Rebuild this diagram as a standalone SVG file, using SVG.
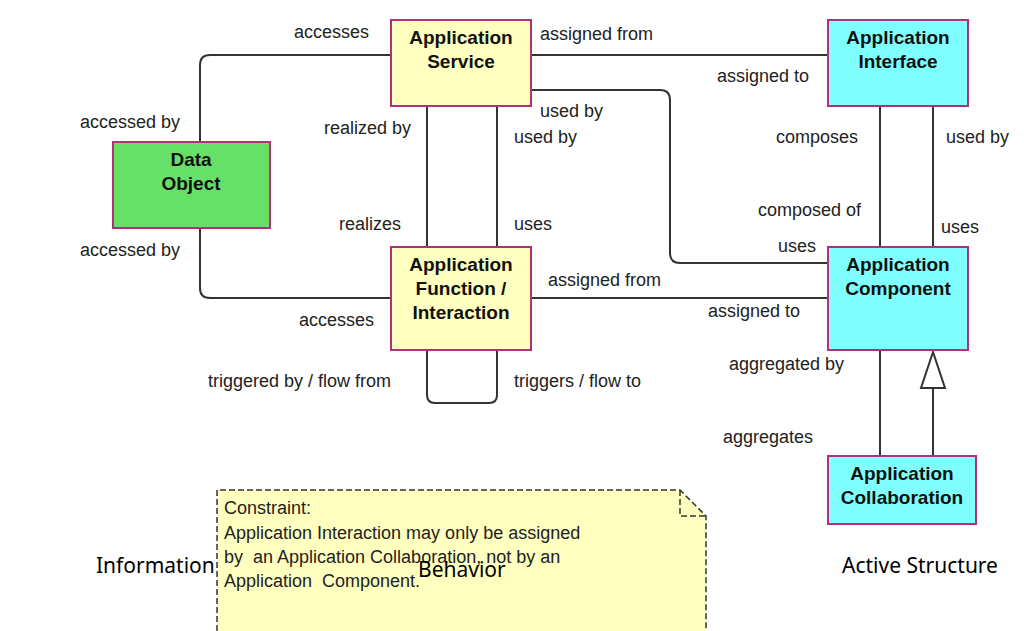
<svg xmlns="http://www.w3.org/2000/svg" width="1024" height="631" viewBox="0 0 1024 631">
<style>
.n{stroke:#b0307a;stroke-width:2}
.y{fill:#ffffc0}.c{fill:#80ffff}.g{fill:#66e066}
.t{font-family:"Liberation Sans",Arial,sans-serif;font-size:19px;font-weight:bold;fill:#111;text-anchor:middle}
.l{font-family:"Liberation Sans",Arial,sans-serif;font-size:18px;fill:#222}
.k{fill:none;stroke:#333;stroke-width:2}
.s{font-family:"Noto Sans","DejaVu Sans",sans-serif;font-size:21px;fill:#000}
.m{font-family:"Liberation Sans",Arial,sans-serif;font-size:18px;fill:#222}
</style>
<rect width="1024" height="631" fill="#fff"/>
<g id="connectors">
<path class="k" d="M391,55H210Q200,55 200,65V142"/>
<path class="k" d="M200,228V288Q200,298 210,298H391"/>
<path class="k" d="M531,55H828"/>
<path class="k" d="M531,90H660Q670,90 670,100V253Q670,263 680,263H828"/>
<path class="k" d="M427,106V247M497,106V247"/>
<path class="k" d="M531,298H828"/>
<path class="k" d="M427,350V395Q427,403 435,403H489Q497,403 497,395V350"/>
<path class="k" d="M880,106V247M933,106V247"/>
<path class="k" d="M880,350V456M933,456V388"/>
<path d="M933,352L921,388H945Z" fill="#fff" stroke="#333" stroke-width="2"/>
</g>
<g id="labels">
<text class="l" x="294" y="38">accesses</text>
<text class="l" x="80" y="128">accessed by</text>
<text class="l" x="80" y="256">accessed by</text>
<text class="l" x="299" y="326">accesses</text>
<text class="l" x="540" y="40">assigned from</text>
<text class="l" x="717" y="82">assigned to</text>
<text class="l" x="540" y="117">used by</text>
<text class="l" x="514" y="143">used by</text>
<text class="l" x="324" y="134">realized by</text>
<text class="l" x="339" y="230">realizes</text>
<text class="l" x="514" y="230">uses</text>
<text class="l" x="776" y="143">composes</text>
<text class="l" x="946" y="143">used by</text>
<text class="l" x="758" y="216">composed of</text>
<text class="l" x="778" y="252">uses</text>
<text class="l" x="941" y="233">uses</text>
<text class="l" x="548" y="286">assigned from</text>
<text class="l" x="708" y="317">assigned to</text>
<text class="l" x="208" y="387">triggered by / flow from</text>
<text class="l" x="514" y="387">triggers / flow to</text>
<text class="l" x="729" y="370">aggregated by</text>
<text class="l" x="723" y="443">aggregates</text>
</g>
<text class="s" x="96" y="573">Information</text>
<text class="s" x="842" y="573">Active Structure</text>
<g id="note">
<path d="M217,631V490H680L706,516V631" fill="#ffffc0" stroke="#333" stroke-width="1.5" stroke-dasharray="6,3"/>
<path d="M680,490V516H706" fill="none" stroke="#333" stroke-width="1.5" stroke-dasharray="6,3"/>
<text class="m" x="224" y="514">Constraint:</text>
<text class="m" x="224" y="539" xml:space="preserve">Application Interaction may only be assigned</text>
<text class="m" x="224" y="563" xml:space="preserve">by  an Application Collaboration, not by an</text>
<text class="m" x="224" y="587" xml:space="preserve">Application  Component.</text>
</g>
<text class="s" x="418" y="577">Behavior</text>
<g id="service"><rect class="n y" x="391" y="20" width="140" height="86"/><text class="t" x="461" y="44">Application</text><text class="t" x="461" y="68">Service</text></g>
<g id="interface"><rect class="n c" x="828" y="20" width="140" height="86"/><text class="t" x="898" y="44">Application</text><text class="t" x="898" y="68">Interface</text></g>
<g id="dataobject"><rect class="n g" x="113" y="142" width="157" height="86"/><text class="t" x="191" y="166">Data</text><text class="t" x="191" y="190">Object</text></g>
<g id="function"><rect class="n y" x="391" y="247" width="140" height="103"/><text class="t" x="461" y="271">Application</text><text class="t" x="461" y="295">Function /</text><text class="t" x="461" y="319">Interaction</text></g>
<g id="component"><rect class="n c" x="828" y="247" width="140" height="103"/><text class="t" x="898" y="271">Application</text><text class="t" x="898" y="295">Component</text></g>
<g id="collaboration"><rect class="n c" x="828" y="456" width="148" height="68"/><text class="t" x="902" y="480">Application</text><text class="t" x="902" y="504">Collaboration</text></g>
</svg>
